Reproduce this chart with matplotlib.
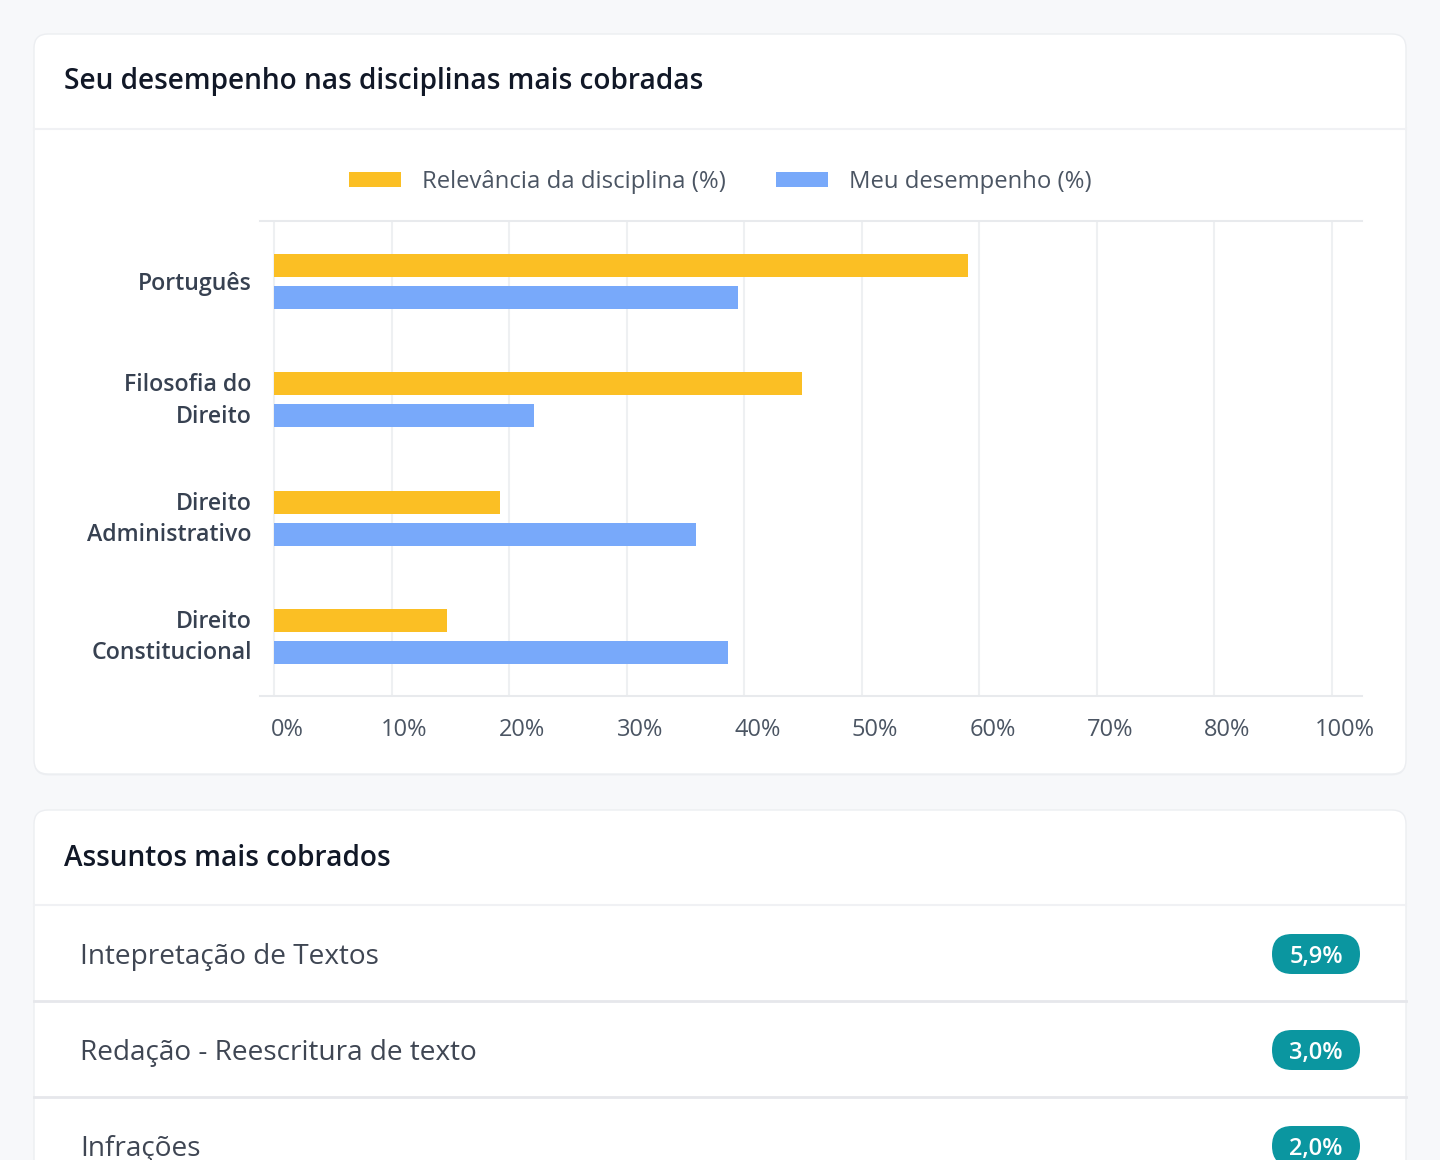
import numpy as np
import matplotlib.pyplot as plt
import matplotlib.transforms as mtransforms
from matplotlib.patches import FancyBboxPatch

plt.rcParams['font.family'] = ['Open Sans', 'DejaVu Sans']

# --- data ---
disciplinas = ['Português', 'Filosofia do\nDireito', 'Direito\nAdministrativo', 'Direito\nConstitucional']
relevancia = [59.0, 44.9, 19.2, 14.7]
desempenho = [39.5, 22.1, 35.9, 38.6]
tick_vals = [0, 10, 20, 30, 40, 50, 60, 70, 80, 90]
tick_labels = ['0%', '10%', '20%', '30%', '40%', '50%', '60%', '70%', '80%', '100%']

assuntos = ['Intepretação de Textos', 'Redação - Reescritura de texto', 'Infrações']
assuntos_pct = ['5,9%', '3,0%', '2,0%']

YELLOW = '#fbbf24'
BLUE = '#78a9fa'
TEAL = '#0b96a0'

fig = plt.figure(figsize=(14.4, 11.6), dpi=100)
fig.patch.set_facecolor('#f7f8fa')

# background layer in pixel coordinates
bg = fig.add_axes([0, 0, 1, 1], zorder=0)
bg.set_xlim(0, 1440)
bg.set_ylim(1160, 0)
bg.axis('off')

for (y0, h) in [(34, 740), (810, 420)]:
    bg.add_patch(FancyBboxPatch((34, y0 + 1.5), 1372, h, boxstyle='round,pad=0,rounding_size=14',
                                fc='#eef0f3', ec='none'))
    bg.add_patch(FancyBboxPatch((34, y0), 1372, h, boxstyle='round,pad=0,rounding_size=14',
                                fc='white', ec='#eceef1', lw=1))

bg.plot([34, 1406], [129, 129], color='#f0f1f4', lw=1.5)
bg.plot([34, 1406], [905, 905], color='#f0f1f4', lw=1.5)

bg.text(64, 82, 'Seu desempenho nas disciplinas mais cobradas', fontsize=20.2,
        fontweight='semibold', color='#111827', va='center')
bg.text(64, 858, 'Assuntos mais cobrados', fontsize=20.2,
        fontweight='semibold', color='#111827', va='center')

for i, (nome, pct) in enumerate(zip(assuntos, assuntos_pct)):
    yc = 954 + 96 * i
    bg.text(80, yc + 3, nome, fontsize=20.2, color='#3f4653', va='center')
    bg.add_patch(FancyBboxPatch((1272, yc - 20), 88, 40, boxstyle='round,pad=0,rounding_size=20',
                                fc=TEAL, ec='none'))
    bg.text(1316, yc + 3, pct, fontsize=17, fontweight='semibold', color='white',
            ha='center', va='center')
    if i < len(assuntos) - 1:
        bg.plot([34, 1406], [yc + 47, yc + 47], color='#e6e7eb', lw=2)

# --- bar chart ---
ax = fig.add_axes([260 / 1440, 1 - 696 / 1160, 1102 / 1440, 475 / 1160], zorder=2)
ax.set_facecolor('none')
y = np.arange(len(disciplinas))
ax.barh(y - 0.135, relevancia, height=0.195, color=YELLOW, label='Relevância da disciplina (%)')
ax.barh(y + 0.135, desempenho, height=0.195, color=BLUE, label='Meu desempenho (%)')

ax.set_xlim(-1.19, 92.55)
ax.set_ylim(3.504, -0.511)
ax.set_xticks(tick_vals, tick_labels)
ax.set_yticks(y, disciplinas)
ax.grid(axis='x', color='#eef0f2', lw=1.5)
ax.set_axisbelow(True)
for s in ['left', 'right']:
    ax.spines[s].set_visible(False)
for s in ['top', 'bottom']:
    ax.spines[s].set_color('#e8eaed')
    ax.spines[s].set_linewidth(1.5)

ax.tick_params(axis='x', length=0, pad=16, labelsize=17, labelcolor='#4b5563')
ax.tick_params(axis='y', length=0, pad=6, labelsize=16.7, labelcolor='#374151')
offset = mtransforms.ScaledTranslation(13 / 100, 0, fig.dpi_scale_trans)
for lbl in ax.get_xticklabels():
    lbl.set_transform(lbl.get_transform() + offset)
up = mtransforms.ScaledTranslation(0, 5.5 / 100, fig.dpi_scale_trans)
for lbl in ax.get_yticklabels():
    lbl.set_fontweight('semibold')
    lbl.set_linespacing(1.42)
    if '\n' in lbl.get_text():
        lbl.set_transform(lbl.get_transform() + up)

fig.legend(loc='center', bbox_to_anchor=(720 / 1440, 1 - 182 / 1160), ncol=2, frameon=False,
           fontsize=17.2, handlelength=2.18, handleheight=0.63, handletextpad=0.88,
           columnspacing=2.09, labelcolor='#4b5563', borderpad=0)

fig.savefig('out.png', dpi=100)
